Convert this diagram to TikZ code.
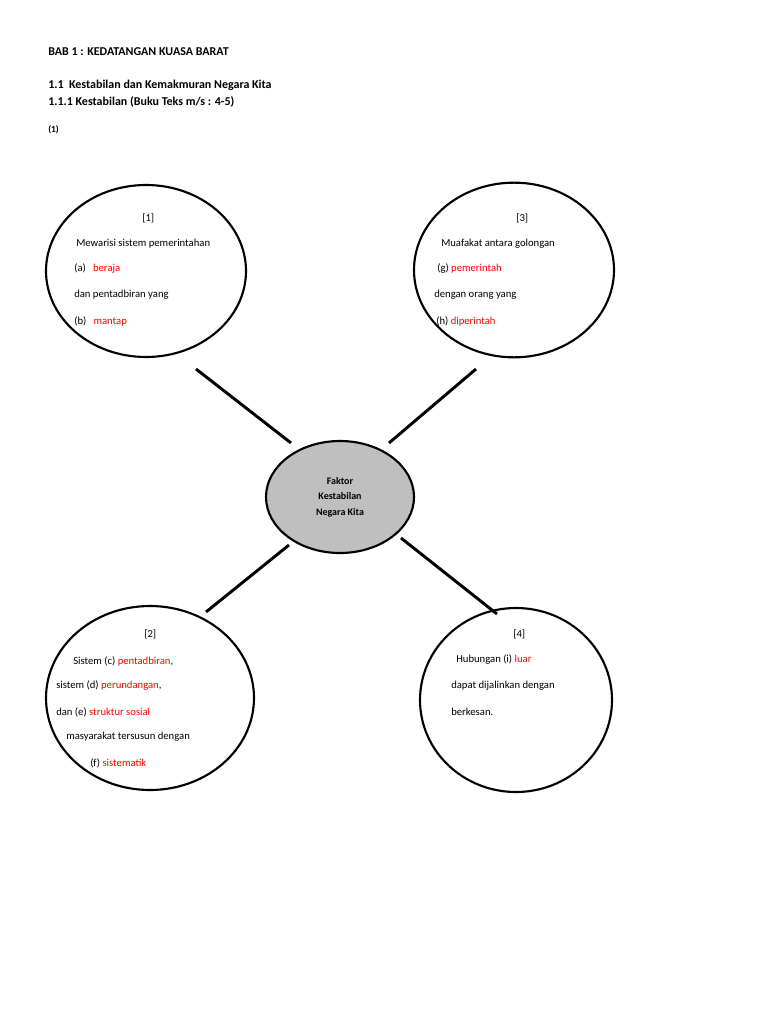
\documentclass[tikz,border=0pt]{standalone}
\usepackage{fontspec}
\setmainfont{Carlito}
\usetikzlibrary{shapes.geometric}
\begin{document}
\begin{tikzpicture}[x=0.75pt,y=-0.75pt,
  bub/.style={draw,ellipse,line width=1.6pt,inner sep=0pt},
  txt/.style={anchor=west,inner sep=0pt,font=\fontsize{8}{9}\selectfont},
  hd/.style={anchor=west,inner sep=0pt,font=\fontsize{9}{10}\selectfont\bfseries},
  conn/.style={line width=2.2pt}]
\useasboundingbox (0,0) rectangle (768,1024);
\fill[white] (0,0) rectangle (768,1024);
\node[hd] (h1) at (48,52) {BAB 1 : KEDATANGAN KUASA BARAT};
\node[hd] (h2) at (48,85) {1.1\ \ Kestabilan dan Kemakmuran Negara Kita};
\node[hd] (h3) at (48,102) {1.1.1 Kestabilan (Buku Teks m/s : 4-5)};
\node[hd,font=\fontsize{7}{8}\selectfont\bfseries] (h4) at (48,130) {(1)};
\node[bub,minimum width=150pt,minimum height=129pt] (e1) at (146,271) {};
\node[bub,minimum width=150pt,minimum height=131pt] (e3) at (514,270) {};
\node[bub,minimum width=111pt,minimum height=84pt,fill=black!25] (c) at (340,497) {};
\node[bub,minimum width=156pt,minimum height=138pt] (e2) at (150,698) {};
\node[bub,minimum width=144pt,minimum height=138pt] (e4) at (516,700) {};
\coordinate (a1) at (196,369); \coordinate (b1) at (291,443);
\coordinate (a3) at (476,369); \coordinate (b3) at (389,443);
\coordinate (a2) at (206,612); \coordinate (b2) at (289,545);
\coordinate (a4) at (497,614); \coordinate (b4) at (401,538);
\draw[conn] (a1) -- (b1); \draw[conn] (a3) -- (b3);
\draw[conn] (a2) -- (b2); \draw[conn] (a4) -- (b4);
\node[align=center,inner sep=0pt,font=\fontsize{7.5}{11.5}\selectfont\bfseries] (ct) at (340,497) {Faktor\\Kestabilan\\Negara Kita};
% 1
\node[txt] (t11) at (142,218) {[1]};
\node[txt] (t12) at (76,244) {Mewarisi sistem pemerintahan};
\node[txt] (t13) at (74,269) {(a)\ \ \ \textcolor{red}{beraja}};
\node[txt] (t14) at (74,295) {dan pentadbiran yang};
\node[txt] (t15) at (74,321) {(b)\ \ \ \textcolor{red}{mantap}};
% 3
\node[txt] (t31) at (516,218) {[3]};
\node[txt] (t32) at (441,244) {Muafakat antara golongan};
\node[txt] (t33) at (437,269) {(g)\ \textcolor{red}{pemerintah}};
\node[txt] (t34) at (434,295) {dengan orang yang};
\node[txt] (t35) at (436,321) {(h)\ \textcolor{red}{diperintah}};
% 2
\node[txt] (t21) at (144,634) {[2]};
\node[txt] (t22) at (73,661) {Sistem (c) \textcolor{red}{pentadbiran},};
\node[txt] (t23) at (56,686) {sistem (d) \textcolor{red}{perundangan},};
\node[txt] (t24) at (56,712) {dan (e) \textcolor{red}{struktur sosial}};
\node[txt] (t25) at (66,737) {masyarakat tersusun dengan};
\node[txt] (t26) at (90,763) {(f) \textcolor{red}{sistematik}};
% 4
\node[txt] (t41) at (513,634) {[4]};
\node[txt] (t42) at (456,660) {Hubungan (i) \textcolor{red}{luar}};
\node[txt] (t43) at (451,686) {dapat dijalinkan dengan};
\node[txt] (t44) at (451,712) {berkesan.};
\end{tikzpicture}
\end{document}
